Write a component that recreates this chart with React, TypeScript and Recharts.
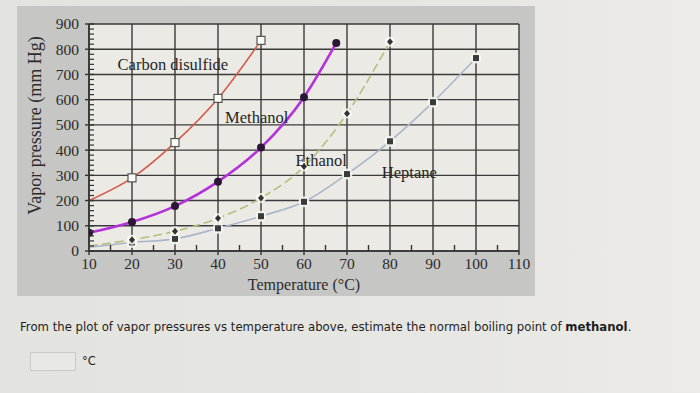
import { LineChart, Line, XAxis, YAxis, CartesianGrid, ReferenceDot } from 'recharts';

// temperatures (°C) where points were measured
const temps = [10, 20, 30, 40, 50, 60, 70, 80, 90, 100];
const methanolTemps = [10, 20, 30, 40, 50, 60, 67.5];

// vapor pressure (mm Hg)
const carbonDisulfide = [200, 290, 430, 605, 835];
const methanol = [72, 115, 178, 275, 410, 610, 825];
const ethanol = [20, 45, 78, 130, 210, 335, 545, 830];
const heptane = [15, 34, 48, 90, 138, 195, 305, 435, 590, 765];

const xTicks = [10, 20, 30, 40, 50, 60, 70, 80, 90, 100, 110];
const xMinorTicks = [15, 25, 35, 45, 55, 65, 75, 85, 95, 105];
const yTicks = [0, 100, 200, 300, 400, 500, 600, 700, 800, 900];
const yMinorTicks = [
  20, 40, 60, 80, 120, 140, 160, 180, 220, 240, 260, 280, 320, 340, 360, 380,
  420, 440, 460, 480, 520, 540, 560, 580, 620, 640, 660, 680, 720, 740, 760, 780,
  820, 840, 860, 880,
];

const toPoints = (xs: number[], ys: number[]) => ys.map((p, i) => ({ t: xs[i], p }));

const SERIF = '"Liberation Serif", "DejaVu Serif", serif';
const INK = '#2b2b2b';
const TICK_SIZE = 4;
const TICK_MARGIN = 6;

const allX = [...xTicks, ...xMinorTicks].sort((a, b) => a - b);
const allY = [...yTicks, ...yMinorTicks].sort((a, b) => a - b);

// x ticks: labels + short tick below for majors, small tick upward for minors
const XTick = (props: any) => {
  const { x, y, payload } = props;
  const axisY = y - TICK_SIZE - 3;
  const major = xTicks.includes(payload.value);
  if (!major) {
    return <line x1={x} x2={x} y1={axisY} y2={axisY - 6} stroke="#333" strokeWidth={1.4} />;
  }
  return (
    <g>
      <line x1={x} x2={x} y1={axisY} y2={axisY + TICK_SIZE} stroke="#333" strokeWidth={1.4} />
      <text x={x} y={y} dy="0.68em" textAnchor="middle" fill={INK} fontFamily={SERIF} fontSize={15.5}>
        {payload.value}
      </text>
    </g>
  );
};

// y ticks: labels + short tick left for majors, small tick inward for minors
const YTick = (props: any) => {
  const { x, y, payload } = props;
  const axisX = x + TICK_SIZE + TICK_MARGIN;
  const major = yTicks.includes(payload.value);
  if (!major) {
    return <line x1={axisX} x2={axisX + 5} y1={y} y2={y} stroke="#333" strokeWidth={1.2} />;
  }
  return (
    <g>
      <line x1={axisX - TICK_SIZE} x2={axisX + 5} y1={y} y2={y} stroke="#333" strokeWidth={1.4} />
      <text x={x} y={y} dy="0.35em" textAnchor="end" fill={INK} fontFamily={SERIF} fontSize={15.5}>
        {payload.value}
      </text>
    </g>
  );
};

const OpenSquare = (props: any) => {
  const { cx, cy, index } = props;
  if (index === 0) return <g key={`cs-${index}`} />;
  return (
    <rect key={`cs-${index}`} x={cx - 4} y={cy - 4} width={8} height={8} fill="#fbfbf8" stroke="#555" strokeWidth={1.2} />
  );
};

const Circle = (props: any) => {
  const { cx, cy, index } = props;
  return <circle key={`me-${index}`} cx={cx} cy={cy} r={4} fill="#2c1636" />;
};

const Diamond = (props: any) => {
  const { cx, cy, index } = props;
  if (index === 0) return <g key={`et-${index}`} />;
  return (
    <g key={`et-${index}`}>
      <circle cx={cx} cy={cy} r={5} fill="#fafaf6" opacity={0.85} />
      <path d={`M${cx},${cy - 3.5} L${cx + 3},${cy} L${cx},${cy + 3.5} L${cx - 3},${cy} Z`} fill="#333" />
    </g>
  );
};

const Square = (props: any) => {
  const { cx, cy, index } = props;
  if (index === 0) return <g key={`hp-${index}`} />;
  return (
    <g key={`hp-${index}`}>
      <circle cx={cx} cy={cy} r={5.5} fill="#fafaf6" opacity={0.85} />
      <rect x={cx - 3} y={cy - 3} width={6} height={6} fill="#3a3a3a" />
    </g>
  );
};

const curveLabel = (text: string) => ({
  value: text,
  position: 'center' as const,
  fill: '#262626',
  fontFamily: SERIF,
  fontSize: 16.5,
});

export default function App() {
  return (
    <div
      style={{
        position: 'absolute',
        left: 0,
        top: 0,
        width: 700,
        height: 393,
        background: 'linear-gradient(90deg, #e3e3df 0%, #e6e6e2 60%, #ecebe8 100%)',
        overflow: 'hidden',
      }}
    >
      <div
        style={{
          position: 'absolute',
          left: 17,
          top: 6,
          width: 518,
          height: 290,
          background: '#c6c6c4',
        }}
      />
      <div style={{ position: 'absolute', left: 0, top: 0 }}>
        <LineChart width={700} height={300} margin={{ top: 24, right: 181, bottom: 9, left: 49 }}>
          <CartesianGrid
            stroke="#3a3a3a"
            strokeWidth={1.4}
            fill="#ebeae5"
            verticalValues={xTicks}
            horizontalValues={yTicks}
          />
          <XAxis
            type="number"
            dataKey="t"
            domain={[10, 110]}
            ticks={allX}
            interval={0}
            allowDataOverflow
            height={40}
            tickSize={TICK_SIZE}
            tickMargin={3}
            tickLine={false}
            stroke="#333"
            strokeWidth={1.6}
            tick={XTick}
            label={{ value: 'Temperature (°C)', position: 'insideBottom', offset: 1, fill: INK, fontFamily: SERIF, fontSize: 16 }}
          />
          <YAxis
            type="number"
            dataKey="p"
            domain={[0, 900]}
            ticks={allY}
            interval={0}
            width={40}
            tickSize={TICK_SIZE}
            tickMargin={TICK_MARGIN}
            tickLine={false}
            stroke="#333"
            strokeWidth={1.6}
            tick={YTick}
            label={{
              content: (props: any) => {
                const vb = props.viewBox || { x: 49, y: 24, height: 227 };
                const x = vb.x - 12;
                const y = vb.y + vb.height / 2 - 12;
                return (
                  <text
                    x={x}
                    y={y}
                    transform={`rotate(-90 ${x} ${y})`}
                    textAnchor="middle"
                    dominantBaseline="middle"
                    fill={INK}
                    fontFamily={SERIF}
                    fontSize={18}
                  >
                    Vapor pressure (mm Hg)
                  </text>
                );
              },
            }}
          />
          <Line
            data={toPoints(temps, heptane)}
            dataKey="p"
            type="monotone"
            stroke="#a9b6ca"
            strokeWidth={1.6}
            dot={Square}
            isAnimationActive={false}
          />
          <Line
            data={toPoints(temps, ethanol)}
            dataKey="p"
            type="monotone"
            stroke="#b5c07a"
            strokeWidth={1.6}
            strokeDasharray="9 4"
            dot={Diamond}
            isAnimationActive={false}
          />
          <Line
            data={toPoints(temps, carbonDisulfide)}
            dataKey="p"
            type="monotone"
            stroke="#d65a48"
            strokeWidth={1.6}
            dot={OpenSquare}
            isAnimationActive={false}
          />
          <Line
            data={toPoints(methanolTemps, methanol)}
            dataKey="p"
            type="monotone"
            stroke="#b430d8"
            strokeWidth={2.6}
            dot={Circle}
            isAnimationActive={false}
          />
          <ReferenceDot x={29.5} y={740} r={0} stroke="none" label={curveLabel('Carbon disulfide')} />
          <ReferenceDot x={49} y={530} r={0} stroke="none" label={curveLabel('Methanol')} />
          <ReferenceDot x={64} y={362} r={0} stroke="none" label={curveLabel('Ethanol')} />
          <ReferenceDot x={84.5} y={312} r={0} stroke="none" label={curveLabel('Heptane')} />
        </LineChart>
      </div>
      <div
        style={{
          position: 'absolute',
          left: 20,
          top: 320,
          fontFamily: '"DejaVu Sans", Verdana, sans-serif',
          fontSize: 11.7,
          color: '#1e1e1e',
          whiteSpace: 'nowrap',
        }}
      >
        From the plot of vapor pressures vs temperature above, estimate the normal boiling point of{' '}
        <b>methanol</b>.
      </div>
      <div
        style={{
          position: 'absolute',
          left: 30,
          top: 352,
          width: 44,
          height: 17,
          border: '1px solid #c9c9c6',
          background: '#e8e8e5',
        }}
      />
      <div
        style={{
          position: 'absolute',
          left: 82,
          top: 354,
          fontFamily: '"DejaVu Sans", Verdana, sans-serif',
          fontSize: 11.5,
          color: '#1e1e1e',
        }}
      >
        °C
      </div>
    </div>
  );
}
